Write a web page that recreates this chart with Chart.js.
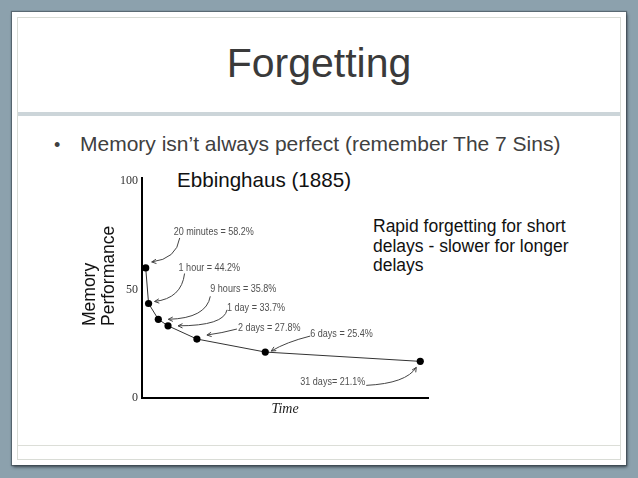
<!DOCTYPE html>
<html>
<head>
<meta charset="utf-8">
<script src="https://cdn.jsdelivr.net/npm/chart.js@4/dist/chart.umd.min.js"></script>
<style>
  html, body { margin: 0; padding: 0; }
  body {
    width: 638px; height: 478px; overflow: hidden; position: relative;
    background: #8ca1ad;
    font-family: 'Liberation Sans', Arial, sans-serif;
  }
  .abs { position: absolute; }
  #slide { left: 12px; top: 12px; width: 614px; height: 453px; background: #fff;
           box-shadow: 0 0 1px 1px rgba(60, 72, 80, 0.6), 1px 2px 3px rgba(40, 52, 60, 0.85); }
  #frame { left: 17px; top: 17px; width: 602px; height: 441px; border: 1px solid #d9dcd6; }
  #band { left: 18px; top: 112px; width: 602px; height: 4px; background: #ccd5d9; }
  #footer { left: 18px; top: 445px; width: 602px; height: 1px; background: #dcded8; }
  #title { left: 0; width: 638px; top: 43px; text-align: center; font-size: 41px; line-height: 41px; color: #3a3a3a; }
  #dot { left: 54px; top: 136px; font-size: 18px; line-height: 18px; color: #404040; }
  #bullet { left: 80px; top: 133px; font-size: 21px; line-height: 21px; color: #404040; white-space: nowrap; }
  #sub { left: 177px; top: 170px; font-size: 20.6px; line-height: 20.6px; color: #111; white-space: nowrap; }
  #note { left: 373px; top: 217px; font-size: 17.5px; line-height: 19.5px; color: #111; white-space: nowrap; }
  #wrap { left: 0; top: 0; width: 638px; height: 478px; }
</style>
</head>
<body>
<div id="slide" class="abs"></div>
<div id="frame" class="abs"></div>
<div id="band" class="abs"></div>
<div id="footer" class="abs"></div>
<div id="title" class="abs">Forgetting</div>
<div id="dot" class="abs">•</div>
<div id="bullet" class="abs">Memory isn’t always perfect (remember The 7 Sins)</div>
<div id="sub" class="abs">Ebbinghaus (1885)</div>
<div id="note" class="abs">Rapid forgetting for short<br>delays - slower for longer<br>delays</div>
<div id="wrap" class="abs"><canvas id="forgetting-chart" width="638" height="478"></canvas></div>

<script>
// time axis has no units in the original, positions read off the drawing
const TIME_X = [1.3, 2.3, 5.7, 9.1, 19.2, 43.1, 97.3];
const RETENTION = [60.0, 43.6, 36.3, 33.3, 27.2, 21.2, 16.9];
const CALLOUT_LABELS = ['20 minutes = 58.2%', '1 hour = 44.2%', '9 hours = 35.8%', '1 day = 33.7%',
    '2 days = 27.8%', '6 days = 25.4%', '31 days= 21.1%'];
const Y_TICKS = [0, 50, 100];
const Y_TITLE = ['Memory', 'Performance'];
const X_TITLE = 'Time';

// pixel offsets from each point: text, arrow start, curve control, arrow tip
const CALLOUT_LAYOUT = [
    {tx: 28, ty: -36, sx: 34, sy: -30, cx: 31, cy: -9, ex: 6, ey: -6},
    {tx: 30, ty: -36, sx: 36, sy: -30, cx: 33, cy: -5, ex: 6, ey: -2},
    {tx: 52, ty: -30, sx: 52, sy: -23, cx: 48, cy: -1, ex: 10, ey: 0},
    {tx: 59, ty: -18, sx: 59, sy: -16, cx: 56, cy: 0, ex: 10, ey: 0},
    {tx: 41, ty: -11, sx: 40, sy: -10, cx: 25, cy: -6, ex: 10, ey: -4},
    {tx: 45, ty: -18, sx: 45, sy: -16, cx: 21, cy: -10, ex: 6, ey: -1},
    {tx: -120, ty: 21, sx: -54, sy: 24, cx: -14, cy: 22, ex: -4, ey: 6}
];

const calloutPlugin = {
    id: 'callouts',
    afterDatasetsDraw(chart) {
        const ctx = chart.ctx;
        const area = chart.chartArea;
        const points = chart.getDatasetMeta(0).data;

        ctx.save();
        ctx.strokeStyle = '#444';
        ctx.fillStyle = '#505050';
        ctx.lineWidth = 1;
        ctx.font = '11.3px "Liberation Sans", Arial, sans-serif';
        ctx.textBaseline = 'middle';
        ctx.textAlign = 'left';
        points.forEach((pt, i) => {
            const l = CALLOUT_LAYOUT[i];
            const px = pt.x, py = pt.y;
            // narrow face, like Arial Narrow
            ctx.save();
            ctx.translate(px + l.tx, py + l.ty);
            ctx.scale(0.8, 1);
            ctx.fillText(CALLOUT_LABELS[i], 0, 0);
            ctx.restore();

            const ex = px + l.ex, ey = py + l.ey, cx = px + l.cx, cy = py + l.cy;
            ctx.beginPath();
            ctx.moveTo(px + l.sx, py + l.sy);
            ctx.quadraticCurveTo(cx, cy, ex, ey);
            ctx.stroke();
            const a = Math.atan2(ey - cy, ex - cx);
            ctx.beginPath();
            ctx.moveTo(ex - 5 * Math.cos(a - 0.45), ey - 5 * Math.sin(a - 0.45));
            ctx.lineTo(ex, ey);
            ctx.lineTo(ex - 5 * Math.cos(a + 0.45), ey - 5 * Math.sin(a + 0.45));
            ctx.stroke();
        });
        ctx.restore();

        // y title, two lines, left aligned along the axis
        ctx.save();
        ctx.fillStyle = '#111';
        ctx.font = '17.5px "Liberation Sans", Arial, sans-serif';
        ctx.textAlign = 'left';
        ctx.textBaseline = 'alphabetic';
        Y_TITLE.forEach((t, i) => {
            ctx.save();
            ctx.translate(area.left - 47 + i * 19, area.bottom - 72);
            ctx.rotate(-Math.PI / 2);
            ctx.fillText(t, 0, 0);
            ctx.restore();
        });
        ctx.restore();
    }
};

function createForgettingChart() {
    const points = TIME_X.map((x, i) => ({x: x, y: RETENTION[i]}));
    return new Chart(document.getElementById('forgetting-chart'), {
        type: 'line',
        data: {
            datasets: [{
                data: points,
                borderColor: '#333',
                borderWidth: 1,
                pointRadius: 3.6,
                pointBackgroundColor: '#000',
                pointBorderWidth: 0,
                tension: 0,
                clip: false
            }]
        },
        options: {
            responsive: false,
            animation: false,
            layout: {padding: {left: 0, top: 178, right: 210, bottom: 60}},
            plugins: {
                legend: {display: false},
                tooltip: {enabled: false}
            },
            scales: {
                x: {
                    type: 'linear',
                    min: 0,
                    max: 100,
                    ticks: {display: false},
                    grid: {display: false, drawTicks: false},
                    border: {display: true, color: '#000', width: 2},
                    title: {
                        display: true,
                        text: X_TITLE,
                        color: '#222',
                        padding: 0,
                        font: {family: '"Liberation Serif", "Times New Roman", serif', style: 'italic', size: 14}
                    },
                    afterFit: (scale) => { scale.height = 20; }
                },
                y: {
                    min: 0,
                    max: 101.5,
                    afterBuildTicks: (scale) => { scale.ticks = Y_TICKS.map(v => ({value: v})); },
                    ticks: {
                        color: '#333',
                        padding: 4,
                        font: {family: '"Liberation Serif", "Times New Roman", serif', size: 12}
                    },
                    grid: {display: false, drawTicks: false},
                    border: {display: true, color: '#000', width: 2},
                    afterFit: (scale) => { scale.width = 142; }
                }
            }
        },
        plugins: [calloutPlugin]
    });
}

createForgettingChart();
</script>
</body>
</html>
